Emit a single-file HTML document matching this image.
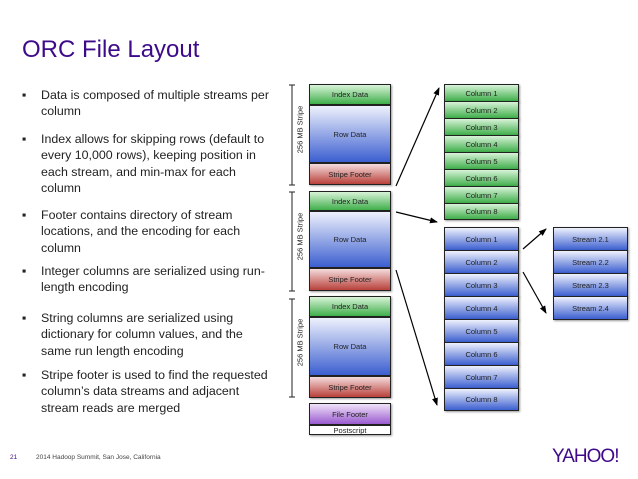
<!DOCTYPE html>
<html><head><meta charset="utf-8"><style>
body{margin:0;width:638px;height:479px;position:relative;background:#fff;font-family:"Liberation Sans",sans-serif;overflow:hidden}
.a{position:absolute}
.t{left:22px;top:36px;font-size:24px;color:#3d0a8a}
.bl{font-size:12.4px;color:#222;line-height:16.3px;white-space:nowrap}
.bl span{position:absolute;left:-19px}
.bx{position:absolute;box-sizing:border-box;border:1px solid #222;font-size:7.5px;color:#222;display:flex;align-items:center;justify-content:center;box-shadow:1px 1px 2px rgba(0,0,0,.4)}
.g{background:linear-gradient(#d8f3d8,#3fae4a)}
.b{background:linear-gradient(#eef1fc,#3c5fd0)}
.r{background:linear-gradient(#f4dcdc,#b8403a)}
.p{background:linear-gradient(#efe2f8,#9a5ad0)}
.w{background:#fff}
.lab{position:absolute;font-size:7.5px;color:#222;transform:rotate(-90deg);white-space:nowrap;width:100px;text-align:center}
</style></head><body>
<div class="a t">ORC File Layout</div>
<div class="a bl" style="left:41px;top:87px"><span>▪</span>Data is composed of multiple streams per<br>column</div>
<div class="a bl" style="left:41px;top:131px"><span>▪</span>Index allows for skipping rows (default to<br>every 10,000 rows), keeping position in<br>each stream, and min-max for each<br>column</div>
<div class="a bl" style="left:41px;top:207px"><span>▪</span>Footer contains directory of stream<br>locations, and the encoding for each<br>column</div>
<div class="a bl" style="left:41px;top:263px"><span>▪</span>Integer columns are serialized using run-<br>length encoding</div>
<div class="a bl" style="left:41px;top:310px"><span>▪</span>String columns are serialized using<br>dictionary for column values, and the<br>same run length encoding</div>
<div class="a bl" style="left:41px;top:367px"><span>▪</span>Stripe footer is used to find the requested<br>column’s data streams and adjacent<br>stream reads are merged</div>

<div class="bx g" style="left:309px;top:84px;width:82px;height:21px">Index Data</div>
<div class="bx b" style="left:309px;top:105px;width:82px;height:58px">Row Data</div>
<div class="bx r" style="left:309px;top:163px;width:82px;height:22px">Stripe Footer</div>
<div class="bx g" style="left:309px;top:191px;width:82px;height:20px">Index Data</div>
<div class="bx b" style="left:309px;top:211px;width:82px;height:57px">Row Data</div>
<div class="bx r" style="left:309px;top:268px;width:82px;height:23px">Stripe Footer</div>
<div class="bx g" style="left:309px;top:296px;width:82px;height:21px">Index Data</div>
<div class="bx b" style="left:309px;top:317px;width:82px;height:59px">Row Data</div>
<div class="bx r" style="left:309px;top:376px;width:82px;height:22px">Stripe Footer</div>
<div class="bx p" style="left:309px;top:403px;width:82px;height:22px">File Footer</div>
<div class="bx w" style="left:309px;top:425px;width:82px;height:10px">Postscript</div>

<div class="lab" style="left:250px;top:125px">256 MB Stripe</div>
<div class="lab" style="left:250px;top:232px">256 MB Stripe</div>
<div class="lab" style="left:250px;top:338px">256 MB Stripe</div>

<div class="bx g" style="left:444px;top:84px;width:75px;height:18px">Column 1</div>
<div class="bx g" style="left:444px;top:101px;width:75px;height:18px">Column 2</div>
<div class="bx g" style="left:444px;top:118px;width:75px;height:18px">Column 3</div>
<div class="bx g" style="left:444px;top:135px;width:75px;height:18px">Column 4</div>
<div class="bx g" style="left:444px;top:152px;width:75px;height:18px">Column 5</div>
<div class="bx g" style="left:444px;top:169px;width:75px;height:18px">Column 6</div>
<div class="bx g" style="left:444px;top:186px;width:75px;height:18px">Column 7</div>
<div class="bx g" style="left:444px;top:203px;width:75px;height:17px">Column 8</div>

<div class="bx b" style="left:444px;top:227px;width:75px;height:24px">Column 1</div>
<div class="bx b" style="left:444px;top:250px;width:75px;height:24px">Column 2</div>
<div class="bx b" style="left:444px;top:273px;width:75px;height:24px">Column 3</div>
<div class="bx b" style="left:444px;top:296px;width:75px;height:24px">Column 4</div>
<div class="bx b" style="left:444px;top:319px;width:75px;height:24px">Column 5</div>
<div class="bx b" style="left:444px;top:342px;width:75px;height:24px">Column 6</div>
<div class="bx b" style="left:444px;top:365px;width:75px;height:24px">Column 7</div>
<div class="bx b" style="left:444px;top:388px;width:75px;height:23px">Column 8</div>

<div class="bx b" style="left:553px;top:227px;width:75px;height:24px">Stream 2.1</div>
<div class="bx b" style="left:553px;top:250px;width:75px;height:24px">Stream 2.2</div>
<div class="bx b" style="left:553px;top:273px;width:75px;height:24px">Stream 2.3</div>
<div class="bx b" style="left:553px;top:296px;width:75px;height:24px">Stream 2.4</div>

<svg class="a" style="left:0;top:0" width="638" height="479">
<defs><marker id="m" markerWidth="8" markerHeight="8" refX="7" refY="4" orient="auto" markerUnits="userSpaceOnUse"><path d="M0,1 L8,4 L0,7z" fill="#000"/></marker></defs>
<g stroke="#222" stroke-width="1">
<path d="M292,85V185M289,85h6M289,185h6"/>
<path d="M292,192V291M289,192h6M289,291h6"/>
<path d="M292,299V397M289,299h6M289,397h6"/>
</g>
<g stroke="#000" stroke-width="1.2" marker-end="url(#m)">
<line x1="396" y1="186" x2="439" y2="88"/>
<line x1="396" y1="212" x2="437" y2="222"/>
<line x1="396" y1="270" x2="437" y2="405"/>
<line x1="523" y1="249" x2="546" y2="229"/>
<line x1="523" y1="272" x2="546" y2="313"/>
</g>
</svg>

<div class="a" style="left:10px;top:454px;font-size:6.5px;color:#3d0a8a">21</div>
<div class="a" style="left:36px;top:454px;font-size:6.5px;color:#444">2014 Hadoop Summit, San Jose, California</div>
<div class="a" style="left:552px;top:446px;font-size:19px;color:#3d0a8a;letter-spacing:-1px">YAHOO!</div>
</body></html>
